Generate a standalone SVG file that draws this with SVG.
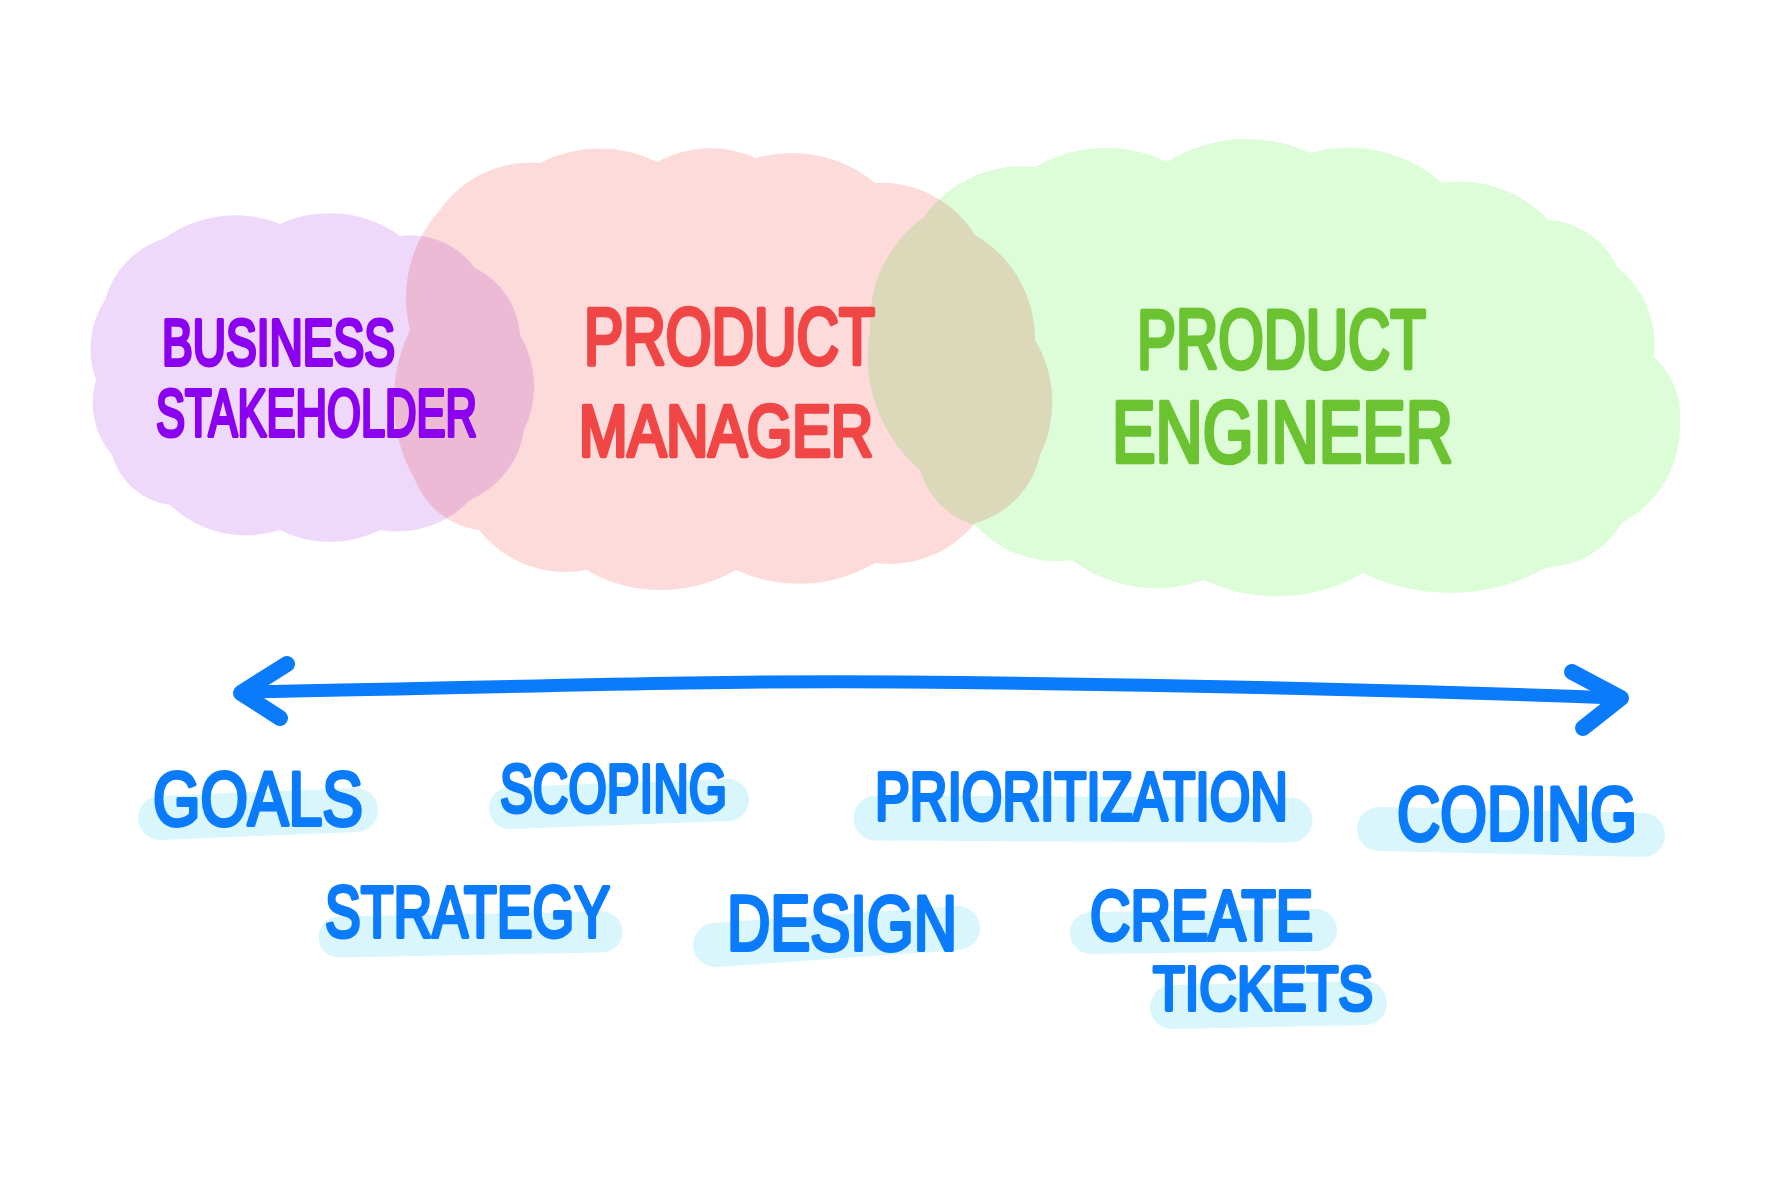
<svg xmlns="http://www.w3.org/2000/svg" width="1770" height="1186" viewBox="0 0 1770 1186">
<style>
.cloud{mix-blend-mode:multiply;stroke:none}
.lbl{font-family:"Liberation Sans",Arial,sans-serif;font-weight:400;stroke-linejoin:round;stroke-linecap:round}
.purple{fill:#8c00f0;stroke:#8c00f0;stroke-width:4}
.red{fill:#f04646;stroke:#f04646;stroke-width:4.5}
.green{fill:#6cc332;stroke:#6cc332;stroke-width:4.5}
.blue{fill:#0a7bfb;stroke:#0a7bfb;stroke-width:4}
.hl{stroke:#d9f6fd;stroke-linecap:round;fill:none}
.arrow{fill:none;stroke:#0a7bfb;stroke-linecap:round;stroke-linejoin:round}
</style>
<rect width="1770" height="1186" fill="#ffffff"/>

<g id="business-stakeholder">
<path class="cloud" fill="#efd9fb" d="M105,300 A90,90 0 0 1 165,238 A120,120 0 0 1 280,224 A120,120 0 0 1 400,236 A80,80 0 0 1 475,268 A80,80 0 0 1 520,335 A100,100 0 0 1 524,430 A90,90 0 0 1 470,500 A100,100 0 0 1 380,530 A110,110 0 0 1 280,530 A110,110 0 0 1 170,505 A70,70 0 0 1 112,455 A80,80 0 0 1 96,380 A90,90 0 0 1 105,300 Z"/>
</g>

<g id="product-manager">
<path class="cloud" fill="#fddbda" d="M410,330 A130,130 0 0 1 440,210 A110,110 0 0 1 540,163 A130,130 0 0 1 657,162 A110,110 0 0 1 756,158 A130,130 0 0 1 875,183 A110,110 0 0 1 975,235 A120,120 0 0 1 1035,340 A120,120 0 0 1 1040,455 A90,90 0 0 1 975,523 A110,110 0 0 1 875,563 A150,150 0 0 1 736,570 A150,150 0 0 1 586,570 A110,110 0 0 1 479,530 A80,80 0 0 1 415,480 A160,160 0 0 1 410,330 Z"/>
</g>

<g id="product-engineer">
<path class="cloud" fill="#ddfdd9" d="M870,330 A130,130 0 0 1 924,217 A120,120 0 0 1 1035,167 A140,140 0 0 1 1167,162 A150,150 0 0 1 1310,153 A140,140 0 0 1 1442,183 A120,120 0 0 1 1548,220 A80,80 0 0 1 1617,267 A100,100 0 0 1 1654,357 A80,80 0 0 1 1680,423 A110,110 0 0 1 1622,523 A90,90 0 0 1 1548,567 A200,200 0 0 1 1363,573 A170,170 0 0 1 1204,580 A140,140 0 0 1 1072,560 A110,110 0 0 1 975,525 A80,80 0 0 1 920,470 A150,150 0 0 1 870,330 Z"/>
</g>

<g id="role-labels">
<text class="lbl purple" x="162" y="365" font-size="64" textLength="233" lengthAdjust="spacingAndGlyphs">BUSINESS</text>
<text class="lbl purple" x="0" y="0" font-size="66" transform="translate(156,436) scale(0.66,1)">STAKEHOLDER</text>
<text class="lbl red" x="584" y="364" font-size="80" textLength="291" lengthAdjust="spacingAndGlyphs">PRODUCT</text>
<text class="lbl red" x="579" y="456" font-size="72" textLength="294" lengthAdjust="spacingAndGlyphs">MANAGER</text>
<text class="lbl green" x="1137" y="368" font-size="84" textLength="289" lengthAdjust="spacingAndGlyphs">PRODUCT</text>
<text class="lbl green" x="1112" y="462" font-size="88" textLength="341" lengthAdjust="spacingAndGlyphs">ENGINEER</text>
</g>

<g id="connectors">
<path class="arrow" stroke-width="13" d="M244,692 C480,688 700,680 903,682 C1150,684 1400,690 1616,698"/>
<polyline class="arrow" stroke-width="16" points="287,664 241,693 280,718"/>
<polyline class="arrow" stroke-width="16" points="1572,672 1621,698 1583,728"/>
</g>

<g id="goals">
<line class="hl" stroke-width="44" x1="160" y1="818" x2="356" y2="810"/>
<text class="lbl blue" x="153" y="825" font-size="76" textLength="210" lengthAdjust="spacingAndGlyphs">GOALS</text>
</g>
<g id="scoping">
<line class="hl" stroke-width="42" x1="510" y1="808" x2="728" y2="800"/>
<text class="lbl blue" x="500" y="812" font-size="68" textLength="227" lengthAdjust="spacingAndGlyphs">SCOPING</text>
</g>
<g id="prioritization">
<line class="hl" stroke-width="45" x1="876" y1="818" x2="1290" y2="820"/>
<text class="lbl blue" x="875" y="820" font-size="68" textLength="413" lengthAdjust="spacingAndGlyphs">PRIORITIZATION</text>
</g>
<g id="coding">
<line class="hl" stroke-width="44" x1="1379" y1="829" x2="1643" y2="835"/>
<text class="lbl blue" x="1397" y="840" font-size="76" textLength="240" lengthAdjust="spacingAndGlyphs">CODING</text>
</g>
<g id="strategy">
<line class="hl" stroke-width="41" x1="339" y1="937" x2="602" y2="932"/>
<text class="lbl blue" x="325" y="937" font-size="72" textLength="285" lengthAdjust="spacingAndGlyphs">STRATEGY</text>
</g>
<g id="design">
<line class="hl" stroke-width="44" x1="715" y1="945" x2="958" y2="928"/>
<text class="lbl blue" x="727" y="950" font-size="78" textLength="230" lengthAdjust="spacingAndGlyphs">DESIGN</text>
</g>
<g id="create-tickets">
<line class="hl" stroke-width="42" x1="1091" y1="933" x2="1316" y2="930"/>
<line class="hl" stroke-width="44" x1="1172" y1="1007" x2="1365" y2="1003"/>
<text class="lbl blue" x="1090" y="940" font-size="70" textLength="223" lengthAdjust="spacingAndGlyphs">CREATE</text>
<text class="lbl blue" x="1153" y="1010" font-size="63" textLength="220" lengthAdjust="spacingAndGlyphs">TICKETS</text>
</g>
</svg>
